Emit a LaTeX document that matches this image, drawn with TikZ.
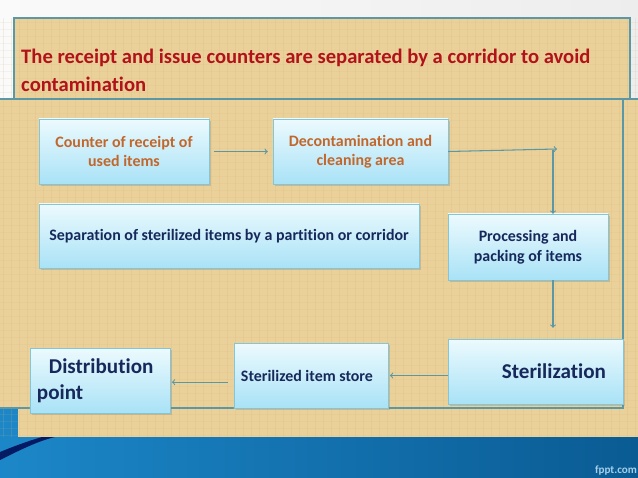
\documentclass[tikz,border=0pt]{standalone}
\usepackage{fontspec}
\setmainfont{Carlito}[Ligatures=NoCommon]
\usetikzlibrary{shadows}

\definecolor{tan}{HTML}{EAD199}
\definecolor{tanline}{HTML}{D2B479}
\definecolor{frame}{HTML}{5B97A5}
\definecolor{boxtop}{HTML}{ECFAFE}
\definecolor{boxbot}{HTML}{A9E2F6}
\definecolor{boxline}{HTML}{86C5D4}
\definecolor{rust}{HTML}{C2672C}
\definecolor{navy}{HTML}{17285B}
\definecolor{titlered}{HTML}{B2121A}
\definecolor{bandleft}{HTML}{1C87C8}
\definecolor{bandright}{HTML}{0A5B93}

\tikzset{
  area/.style={draw=boxline, top color=boxtop, bottom color=boxbot,
    drop shadow={shadow xshift=0.5mm, shadow yshift=-0.5mm, opacity=0.3},
    font=\fontsize{13.6}{16.5}\selectfont\bfseries, text=navy,
    align=center, inner sep=2pt, minimum height=1.95cm},
  flow/.style={-to, draw=frame, line width=0.9pt},
  panel/.style={fill=tan}
}

\begin{document}
\begin{tikzpicture}[x=0.03cm,y=-0.03cm]
\useasboundingbox (0,0) rectangle (638,478);
% background and blue band
\shade[left color=white!96!gray, right color=white!86!gray] (0,0) rectangle (638,410);
\shade[left color=bandleft, right color=bandright] (0,408) rectangle (638,478);
\fill[black!70!blue, opacity=0.8] (0,460) .. controls (20,450) and (38,441) .. (55,437)
  -- (42,437) .. controls (28,441) and (12,447) .. (0,452) -- cycle;

% tan panels
\fill[panel] (18,99) rectangle (638,437);
\fill[panel] (0,99) rectangle (623,408);
\fill[panel] (14,18) rectangle (630,99);
\begin{scope}
\clip (0,18) rectangle (638,437);
\foreach \i in {3,11,...,638}
  \draw[tanline, opacity=0.18, line width=0.3pt] (\i,18) -- (\i,437);
\foreach \j in {22,29,...,437}
  \draw[tanline, opacity=0.12, line width=0.3pt] (0,\j) -- (638,\j);
\end{scope}
\draw[frame, line width=1pt] (14,18) rectangle (630,99);
\draw[frame, line width=1pt] (0,99) -- (638,99);
\draw[frame, line width=1pt] (623,99) -- (623,408) -- (0,408);

\node[anchor=west, align=left, inner sep=0, text=titlered,
  font=\fontsize{17.6}{24}\selectfont\bfseries] (title) at (21,70)
  {The receipt and issue counters are separated by a corridor to avoid\\contamination};

% boxes
\node[area, text=rust, minimum width=5.1cm] (receipt) at (124,151.5) {Counter of receipt of\\used items};
\node[area, text=rust, minimum width=5.25cm] (cleaning) at (360.5,151.5) {Decontamination and\\cleaning area};
\node[area, minimum width=11.4cm, minimum height=1.92cm] (partition) at (229,236)
  {Separation of sterilized items by a partition or corridor};
\node[area, minimum width=4.8cm, minimum height=1.98cm, font=\fontsize{13.6}{17}\selectfont\bfseries] (packing) at (528,247)
  {Processing and\\packing of items};
\node[area, minimum width=5.25cm, text width=5.25cm-10.2mm, inner xsep=5.1mm, align=right,
  font=\fontsize{18}{22}\selectfont\bfseries] (steril) at (535.5,371.5) {Sterilization};
\node[area, minimum width=4.62cm, text width=4.62cm-4.2mm, inner xsep=2.1mm, align=flush left] (store) at (311,375.5)
  {Sterilized item store};
\node[area, minimum width=4.2cm, text width=4.2cm-4.2mm, inner xsep=2.1mm, align=flush left,
  font=\fontsize{18}{22}\selectfont\bfseries] (dist) at (100,380.5)
  {\hspace*{3.6mm}Distribution\\point};

% connectors
\coordinate (turn) at (557,149);
\coordinate (down) at (553,150);
\draw[flow, shorten <=1.5mm, shorten >=1.5mm] (receipt) -- (cleaning);
\draw[flow] (cleaning.east) -- (turn);
\draw[flow] (down) -- (down |- packing.north);
\draw[flow, shorten >=3.3mm] (down |- packing.south) -- (down |- steril.north);
\draw[flow, shorten >=0.5mm] (store.east -| steril.west) -- (store.east);
\draw[flow, shorten <=1.8mm, shorten >=0.5mm] ([yshift=-2mm]store.west) -- ([yshift=-2mm]store.west -| dist.east);

\node[text=white!60!bandleft, font=\fontsize{9.5}{10}\selectfont\bfseries] (mark) at (616,471) {fppt.com};
\end{tikzpicture}
\end{document}
